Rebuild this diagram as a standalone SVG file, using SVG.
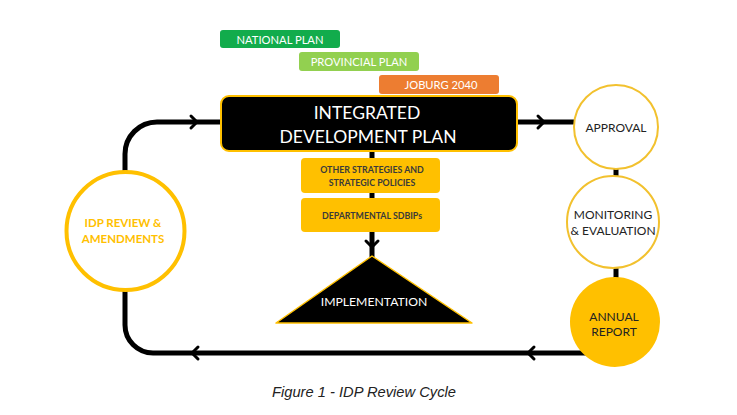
<svg xmlns="http://www.w3.org/2000/svg" width="737" height="415" viewBox="0 0 737 415">
<style>
.ln{fill:none;stroke:#000;stroke-width:5;stroke-linecap:butt}
.ah{fill:none;stroke:#000;stroke-width:3;stroke-linecap:round;stroke-linejoin:round}
.t{font-family:Lato,"Open Sans","Liberation Sans",sans-serif;text-anchor:middle}
.tag{font-size:11.2px;fill:#fff}
.ybox{fill:#ffc000}
.sm{font-size:8.8px;fill:#3a3a3a;font-weight:bold}
.cir{font-size:12px;fill:#222}
</style>
<rect width="737" height="415" fill="#fff"/>
<g id="connectors">
<path class="ln" d="M125 171 V154 A32 32 0 0 1 157 122 H222"/>
<path class="ah" d="M191 116 L197 122 L191 128"/>
<path class="ln" d="M516 122 H575"/>
<path class="ah" d="M538 116 L544 122 L538 128"/>
<path class="ln" d="M616 168 V178"/>
<path class="ln" d="M616 266 V279"/>
<path class="ln" d="M600 353 H153 A28 28 0 0 1 125 325 V290"/>
<path class="ah" d="M534 347 L528 353 L534 359"/>
<path class="ah" d="M198 347 L192 353 L198 359"/>
<path class="ln" d="M372 150 V159"/>
<path class="ln" d="M372 192 V199"/>
<path class="ln" d="M372 231 V257"/>
<path class="ah" d="M366 241 L372 247 L378 241"/>
</g>
<g id="national"><rect x="220" y="30" width="120" height="18" rx="3" fill="#12ac4c"/><text class="t tag" x="280" y="44">NATIONAL PLAN</text></g>
<g id="provincial"><rect x="299" y="52" width="120" height="19" rx="3" fill="#92d050"/><text class="t tag" x="359" y="66">PROVINCIAL PLAN</text></g>
<g id="joburg"><rect x="379" y="75" width="120" height="19" rx="3" fill="#ed7d31"/><text class="t tag" x="441" y="89" fill="#fde9d9">JOBURG 2040</text></g>
<g id="idp"><rect x="221" y="96" width="296" height="55" rx="8" fill="#000" stroke="#ffc000" stroke-width="2"/>
<text class="t" x="367" y="119" font-size="17.5" fill="#fff">INTEGRATED</text>
<text class="t" x="368" y="143" font-size="17.5" fill="#fff">DEVELOPMENT PLAN</text></g>
<g id="other"><rect class="ybox" x="301" y="158" width="139" height="35" rx="4"/>
<text class="t sm" x="372" y="173">OTHER STRATEGIES AND</text>
<text class="t sm" x="372" y="186">STRATEGIC POLICIES</text></g>
<g id="sdbip"><rect class="ybox" x="301" y="198" width="139" height="34" rx="4"/>
<text class="t sm" x="372" y="219">DEPARTMENTAL SDBIPs</text></g>
<g id="implementation"><polygon points="372,256 276,323 472,323" fill="#000" stroke="#ffc000" stroke-width="1.5" stroke-linejoin="round"/>
<text class="t" x="374" y="306" font-size="12.2" fill="#fff">IMPLEMENTATION</text></g>
<g id="approval"><circle cx="616" cy="127" r="42" fill="#fff" stroke="#f2c12e" stroke-width="2"/>
<text class="t cir" x="616" y="132">APPROVAL</text></g>
<g id="monitoring"><circle cx="613" cy="222" r="46" fill="#fff" stroke="#f2c12e" stroke-width="2"/>
<text class="t cir" x="613" y="219">MONITORING</text>
<text class="t cir" x="613" y="235">&amp; EVALUATION</text></g>
<g id="annual"><circle cx="615" cy="322" r="45" fill="#ffc000"/>
<text class="t cir" x="614" y="321" fill="#3a2a00">ANNUAL</text>
<text class="t cir" x="614" y="336" fill="#3a2a00">REPORT</text></g>
<g id="review"><circle cx="125.5" cy="231" r="59" fill="#fff" stroke="#ffc000" stroke-width="4"/>
<text class="t" x="123" y="227" font-size="11.5" font-weight="bold" fill="#ffc000">IDP REVIEW &amp;</text>
<text class="t" x="123" y="243" font-size="11.5" font-weight="bold" fill="#ffc000">AMENDMENTS</text></g>
<text x="364" y="397" font-family="'Liberation Sans',Arial,sans-serif" font-size="14.7" font-style="italic" fill="#222" text-anchor="middle">Figure 1 - IDP Review Cycle</text>
</svg>
